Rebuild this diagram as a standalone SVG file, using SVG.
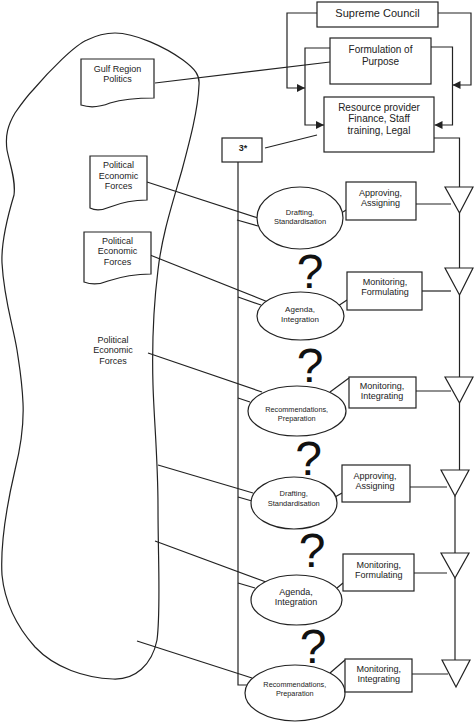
<svg xmlns="http://www.w3.org/2000/svg" width="474" height="724" viewBox="0 0 474 724">
<style>
.s{fill:none;stroke:#222;stroke-width:1.2}
.b{fill:#fff;stroke:#222;stroke-width:1.2}
.t{font-family:"Liberation Sans",Arial,sans-serif;fill:#222;text-anchor:middle}
.q{font-family:"Liberation Sans",Arial,sans-serif;fill:#111;text-anchor:middle;font-size:48px}
</style>
<defs>
<marker id="ah" viewBox="0 0 10 10" refX="10" refY="5" markerWidth="8" markerHeight="8" markerUnits="userSpaceOnUse" orient="auto"><path d="M0,0 L10,5 L0,10 z" fill="#222"/></marker>
</defs>
<rect width="474" height="724" fill="#fff"/>

<g id="blob">
<path class="s" d="M115,33 C135,33 165,47 183,60 C195,69 200,75 199,85 C198,110 190,140 182,170 C172,205 162,235 158,270 C153,310 152,350 153,385 C154,420 158,460 158,507 C158,560 161,610 157,640 C152,665 135,680 113,679 C85,678 55,668 35,647 C18,628 5,605 2,575 C0,540 8,500 15,470 C20,450 24,425 23,403 C22,380 20,370 17,350 C13,325 4,300 2,263 C1,240 8,215 14,195 C16,180 10,165 7,150 C5,135 8,125 15,113 C22,103 28,95 33,90 C50,70 75,45 87,40 C97,35 105,33 115,33 Z"/>
</g>

<g id="connectors">
<path class="s" d="M317,13 H287 V88 H305" marker-end="url(#ah)"/>
<path class="s" d="M330,48 H305 V125 H324" marker-end="url(#ah)"/>
<path class="s" d="M438,13 H471 V85 H452.5" marker-end="url(#ah)"/>
<path class="s" d="M431,47 H452.5 V125 H434.5" marker-end="url(#ah)"/>
<path class="s" d="M434,138 H459.5 V187"/>
<path class="s" d="M459.5,213 V268"/>
<path class="s" d="M459.5,295 V377"/>
<path class="s" d="M459.5,403 V470"/>
<path class="s" d="M455,496 V553"/>
<path class="s" d="M455,578 V660"/>
<line class="s" x1="155" y1="83" x2="330" y2="62"/>
<line class="s" x1="265" y1="148" x2="317" y2="135"/>
<path class="s" d="M238,162 V685 H247"/>
<line class="s" x1="147" y1="182" x2="258" y2="218"/>
<line class="s" x1="237" y1="220" x2="258" y2="226"/>
<line class="s" x1="150" y1="255" x2="268" y2="302"/>
<line class="s" x1="238" y1="297" x2="261" y2="305"/>
<line class="s" x1="148" y1="353" x2="262" y2="392"/>
<line class="s" x1="238" y1="398" x2="250" y2="402"/>
<line class="s" x1="158" y1="465" x2="253" y2="493"/>
<line class="s" x1="238" y1="497" x2="252" y2="501"/>
<line class="s" x1="155" y1="541" x2="266" y2="582"/>
<line class="s" x1="238" y1="583" x2="255" y2="588"/>
<line class="s" x1="137" y1="641" x2="252" y2="678"/>
<line class="s" x1="343" y1="212" x2="346" y2="210"/>
<line class="s" x1="338" y1="306" x2="347" y2="300"/>
<line class="s" x1="330" y1="392" x2="349" y2="378"/>
<line class="s" x1="335" y1="497" x2="342" y2="493"/>
<line class="s" x1="337" y1="588" x2="343" y2="583"/>
<line class="s" x1="330" y1="673" x2="345" y2="660"/>
<line class="s" x1="416" y1="204" x2="451" y2="204"/>
<line class="s" x1="422" y1="291" x2="451" y2="291"/>
<line class="s" x1="416" y1="391" x2="451" y2="391"/>
<line class="s" x1="410" y1="487" x2="447" y2="487"/>
<line class="s" x1="414" y1="573" x2="447" y2="573"/>
<line class="s" x1="412" y1="674" x2="448" y2="674"/>
</g>

<g id="supreme-council">
<rect class="b" x="317" y="2" width="121" height="25"/>
<text class="t" x="377.5" y="17" font-size="11">Supreme Council</text>
</g>
<g id="formulation">
<rect class="b" x="330" y="38" width="101" height="46"/>
<text class="t" x="380.5" y="53" font-size="10">Formulation of</text>
<text class="t" x="380.5" y="64.6" font-size="10">Purpose</text>
</g>
<g id="resource">
<rect class="b" x="324" y="97" width="110" height="55"/>
<text class="t" x="379" y="111" font-size="10">Resource provider</text>
<text class="t" x="379" y="122" font-size="10">Finance, Staff</text>
<text class="t" x="379" y="133.5" font-size="10">training, Legal</text>
</g>

<g id="gulf-doc">
<path class="b" d="M81,59 H154 V98 C135,98 120,100 110,103 C100,107 90,108 81,105 Z"/>
<text class="t" x="117.5" y="71.5" font-size="9">Gulf Region</text>
<text class="t" x="117.5" y="82.2" font-size="9">Politics</text>
</g>
<g id="pef-doc1">
<path class="b" d="M90,156 H147 V200 C132,200 120,203 110,207 C103,210 96,211 90,208 Z"/>
<text class="t" x="118.5" y="168" font-size="9">Political</text>
<text class="t" x="118.5" y="179" font-size="9">Economic</text>
<text class="t" x="118.5" y="189" font-size="9">Forces</text>
</g>
<g id="pef-doc2">
<path class="b" d="M84,232 H151 V274 C134,274 120,277 108,281 C101,284 92,285 84,282 Z"/>
<text class="t" x="117.5" y="244" font-size="9">Political</text>
<text class="t" x="117.5" y="254" font-size="9">Economic</text>
<text class="t" x="117.5" y="265" font-size="9">Forces</text>
</g>
<g id="pef-text">
<text class="t" x="113" y="342.5" font-size="9">Political</text>
<text class="t" x="113" y="353" font-size="9">Economic</text>
<text class="t" x="113" y="363.5" font-size="9">Forces</text>
</g>

<g id="box-3">
<rect class="b" x="222" y="138" width="40" height="24"/>
<text class="t" x="243" y="151" font-size="9" font-weight="bold">3*</text>
</g>

<g id="ellipse1">
<ellipse class="b" cx="300" cy="218" rx="43" ry="31"/>
<text class="t" x="300" y="215" font-size="7.5">Drafting,</text>
<text class="t" x="300" y="224" font-size="7.5">Standardisation</text>
</g>
<g id="ellipse2">
<ellipse class="b" cx="300.5" cy="316" rx="43.5" ry="24"/>
<text class="t" x="300" y="312" font-size="8">Agenda,</text>
<text class="t" x="300" y="322" font-size="8">Integration</text>
</g>
<g id="ellipse3">
<ellipse class="b" cx="297" cy="411" rx="49" ry="25"/>
<text class="t" x="296.7" y="412.4" font-size="7.3">Recommendations,</text>
<text class="t" x="296.7" y="421" font-size="7.3">Preparation</text>
</g>
<g id="ellipse4">
<ellipse class="b" cx="294" cy="503" rx="43" ry="26"/>
<text class="t" x="293.7" y="496" font-size="7.5">Drafting,</text>
<text class="t" x="293.7" y="505.5" font-size="7.5">Standardisation</text>
</g>
<g id="ellipse5">
<ellipse class="b" cx="296.5" cy="600" rx="45.5" ry="25"/>
<text class="t" x="296" y="595" font-size="9">Agenda,</text>
<text class="t" x="296" y="605" font-size="9">Integration</text>
</g>
<g id="ellipse6">
<ellipse class="b" cx="295" cy="693" rx="50" ry="28"/>
<text class="t" x="294.8" y="686.7" font-size="7.3">Recommendations,</text>
<text class="t" x="294.8" y="696" font-size="7.3">Preparation</text>
</g>

<g id="box1">
<rect class="b" x="346" y="182" width="70" height="38"/>
<text class="t" x="380.5" y="195.5" font-size="9">Approving,</text>
<text class="t" x="380.5" y="205.5" font-size="9">Assigning</text>
</g>
<g id="box2">
<rect class="b" x="347" y="272" width="75" height="38"/>
<text class="t" x="385" y="285" font-size="9">Monitoring,</text>
<text class="t" x="385" y="295" font-size="9">Formulating</text>
</g>
<g id="box3">
<rect class="b" x="349" y="377" width="67" height="31"/>
<text class="t" x="382" y="389" font-size="9">Monitoring,</text>
<text class="t" x="382" y="399" font-size="9">Integrating</text>
</g>
<g id="box4">
<rect class="b" x="342" y="465" width="68" height="37"/>
<text class="t" x="375" y="478.5" font-size="9">Approving,</text>
<text class="t" x="375" y="488.5" font-size="9">Assigning</text>
</g>
<g id="box5">
<rect class="b" x="343" y="554" width="71" height="37"/>
<text class="t" x="378.7" y="568" font-size="9">Monitoring,</text>
<text class="t" x="378.7" y="577.5" font-size="9">Formulating</text>
</g>
<g id="box6">
<rect class="b" x="345" y="659" width="67" height="33"/>
<text class="t" x="378.8" y="671.5" font-size="9">Monitoring,</text>
<text class="t" x="378.8" y="682" font-size="9">Integrating</text>
</g>

<g id="tri1"><polygon class="b" points="445,187 473,187 459.5,213"/></g>
<g id="tri2"><polygon class="b" points="445,268 473,268 459.5,295"/></g>
<g id="tri3"><polygon class="b" points="445,377 473,377 459.5,403"/></g>
<g id="tri4"><polygon class="b" points="441,470 469,470 455,496"/></g>
<g id="tri5"><polygon class="b" points="441,553 469,553 455,578"/></g>
<g id="tri6"><polygon class="b" points="442,660 470,660 456,687"/></g>

<g id="questions">
<text class="q" x="310" y="288">?</text>
<text class="q" x="310" y="382">?</text>
<text class="q" x="308.5" y="475">?</text>
<text class="q" x="312" y="566.5">?</text>
<text class="q" x="313" y="663">?</text>
</g>
</svg>
